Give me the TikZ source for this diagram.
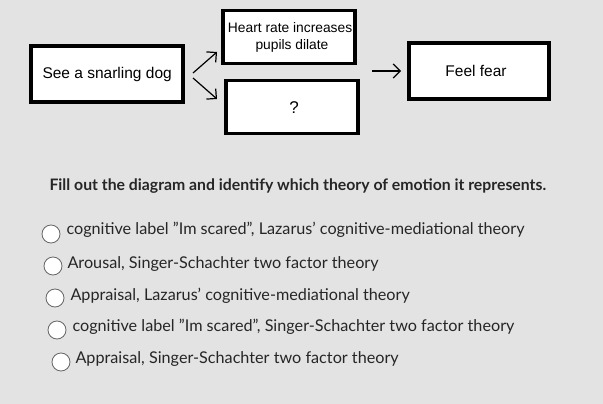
\documentclass[tikz,border=0pt]{standalone}
\usepackage{fontspec}
\setmainfont{Lato}
\newfontfamily\boxfont{Liberation Sans}
\usetikzlibrary{arrows.meta}
\begin{document}
\begin{tikzpicture}[x=1pt,y=-1pt,
  bx/.style={draw=black,line width=3.5pt,fill=white,inner sep=0pt},
  bt/.style={font=\boxfont\fontsize{15.5}{17}\selectfont,align=center},
  conn/.style={line width=1.2pt,-{Straight Barb[length=7pt,width=14pt]}},
  opt/.style={anchor=west,font=\fontsize{16.2}{19}\selectfont,text=black!85},
  rad/.style={draw=black!60,fill=white,circle,minimum size=18pt,inner sep=0pt,line width=0.8pt}]
\fill[gray!22] (0,0) rectangle (603,404);
\useasboundingbox (0,0) rectangle (603,404);
\node[bx,minimum width=152pt,minimum height=56pt] (dog) at (107,74) {};
\node[bt,anchor=west] (dogt) at (39,74) {See a snarling dog};
\node[bx,minimum width=132pt,minimum height=53pt] (hr) at (289,37) {};
\node[bt,font=\boxfont\fontsize{13.8}{17}\selectfont] (hrt) at (292,37) {Heart rate increases,\\pupils dilate};
\node[bx,minimum width=132pt,minimum height=53pt] (q) at (292,107) {};
\node[bt,font=\boxfont\fontsize{17}{19}\selectfont] (qt) at (294,108) {?};
\node[bx,minimum width=140pt,minimum height=56pt] (ff) at (479,71) {};
\node[bt] (fft) at (476,71) {Feel fear};
\coordinate (a1) at (193,73);
\coordinate (a2) at (193,78);
\draw[conn] (a1) -- (217,52);
\draw[conn] (a2) -- (217,99);
\coordinate (a3) at (372,71);
\draw[conn] (a3) -- (401,71);
\node[anchor=west,font=\fontsize{15.8}{18}\selectfont\bfseries,text=black!85] (qq) at (46,186) {Fill out the diagram and identify which theory of emotion it represents.};
\node[rad] (r1) at (51,234) {};
\node[opt] (o1) at (63,230) {cognitive label "Im scared", Lazarus' cognitive-mediational theory};
\node[rad] (r2) at (53,266) {};
\node[opt] (o2) at (64,264) {Arousal, Singer-Schachter two factor theory};
\node[rad] (r3) at (55,298) {};
\node[opt] (o3) at (67,296) {Appraisal, Lazarus' cognitive-mediational theory};
\node[rad] (r4) at (57,330) {};
\node[opt] (o4) at (69,327) {cognitive label "Im scared", Singer-Schachter two factor theory};
\node[rad] (r5) at (61,362) {};
\node[opt] (o5) at (72,359) {Appraisal, Singer-Schachter two factor theory};
\end{tikzpicture}
\end{document}
